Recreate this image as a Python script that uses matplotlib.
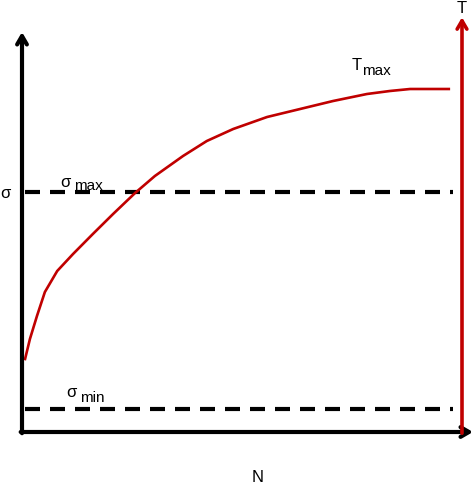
import matplotlib
matplotlib.use("Agg")
import matplotlib.pyplot as plt

# Red T curve (N normalized 0..1, sigma normalized 0..1)
curve_n = [0.007, 0.018, 0.034, 0.052, 0.080, 0.116, 0.161, 0.207, 0.257, 0.302,
           0.366, 0.420, 0.480, 0.557, 0.632, 0.707, 0.784, 0.836, 0.882, 0.970]
curve_t = [0.1825, 0.2325, 0.29, 0.35, 0.4025, 0.445, 0.495, 0.545, 0.5975, 0.64,
           0.69, 0.7275, 0.7575, 0.7875, 0.8075, 0.8275, 0.845, 0.8525, 0.8575, 0.8575]
sigma_max = 0.60
sigma_min = 0.0575
dash_start, dash_end = 0.007, 0.98

plt.rcParams['font.family'] = ['Liberation Sans', 'DejaVu Sans']
red = "#c00000"
fig = plt.figure(figsize=(4.74, 4.89), dpi=100)
ax = fig.add_axes([0, 0, 1, 1])
ax.set_xlim(-22 / 440, 452 / 440)
ax.set_ylim(-56 / 400, 433 / 400)
ax.axis("off")

# Dashed sigma lines
for s in (sigma_max, sigma_min):
    ax.plot([dash_start, dash_end], [s, s], color="black", lw=3,
            dashes=(3.6, 2.4), solid_capstyle="butt", dash_capstyle="butt")

# Red curve
ax.plot(curve_n, curve_t, color=red, lw=1.9, solid_joinstyle="round")

# Black axes with arrows
ax.annotate("", xy=(0, 1.0), xytext=(0, -0.003),
            arrowprops=dict(arrowstyle="->,head_length=0.6,head_width=0.35", lw=3, color="black",
                            shrinkA=0, shrinkB=0))
ax.annotate("", xy=(1.025, 0), xytext=(-0.003, 0),
            arrowprops=dict(arrowstyle="->,head_length=0.6,head_width=0.35", lw=3, color="black",
                            shrinkA=0, shrinkB=0))
# Red T axis
ax.annotate("", xy=(1.0, 1.037), xytext=(1.0, -0.003),
            arrowprops=dict(arrowstyle="->,head_length=0.6,head_width=0.35", lw=2.6, color=red,
                            shrinkA=0, shrinkB=0))

fs = 12
sfs = 11
ax.text(-0.0386, sigma_max, "σ", fontsize=fs, ha="center", va="center")
ax.text(0.086, 0.6275, "σ", fontsize=fs, ha="left", va="center")
ax.text(0.118, 0.6175, "max", fontsize=sfs, ha="left", va="center")
ax.text(0.10, 0.10, "σ", fontsize=fs, ha="left", va="center")
ax.text(0.132, 0.0875, "min", fontsize=sfs, ha="left", va="center")
ax.text(0.75, 0.92, "T", fontsize=fs, ha="left", va="center")
ax.text(0.773, 0.905, "max", fontsize=sfs, ha="left", va="center")
ax.text(1.0, 1.0625, "T", fontsize=fs, ha="center", va="center")
ax.text(0.536, -0.1125, "N", fontsize=fs, ha="center", va="center")

fig.savefig("out.png", dpi=100)
